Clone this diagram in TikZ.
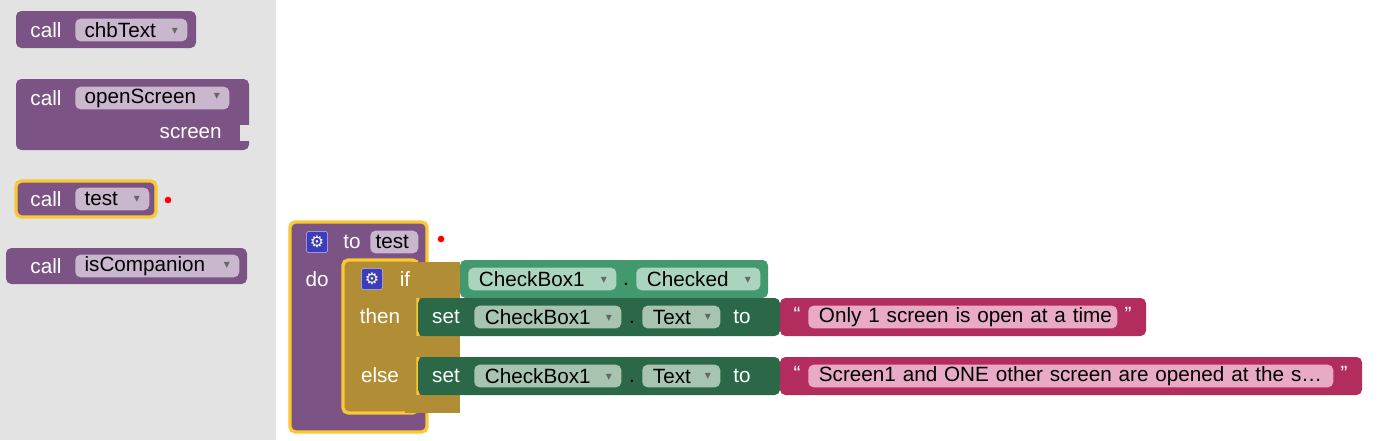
\documentclass[tikz,border=0pt]{standalone}
\usepackage{fontspec}
\setmainfont{Liberation Sans}
\newfontfamily\symfont{DejaVu Sans}
\usetikzlibrary{positioning}
\definecolor{procPurple}{RGB}{124,83,133}
\definecolor{procField}{RGB}{201,183,206}
\definecolor{ctrlGold}{RGB}{177,142,53}
\definecolor{selYellow}{RGB}{250,200,50}
\definecolor{getGreen}{RGB}{67,153,110}
\definecolor{getField}{RGB}{170,212,190}
\definecolor{setGreen}{RGB}{42,104,72}
\definecolor{setField}{RGB}{166,196,176}
\definecolor{txtRed}{RGB}{178,45,94}
\definecolor{txtField}{RGB}{232,170,196}
\definecolor{gearBlue}{RGB}{60,60,190}
\newcommand{\dd}{\hfill\raisebox{2.5pt}{\symfont\small\color{black!60}▾}\hspace*{7pt}}
\tikzset{
  blk/.style={rounded corners=4pt},
  fld/.style={rounded corners=4pt, anchor=west, inner sep=0pt, minimum height=17pt,
    text width=#1*0.75pt, align=left, text=black, font=\fontsize{15.5}{18}\selectfont},
  lbl/.style={text=white, font=\fontsize{15.5}{18}\selectfont, inner sep=0pt},
  gear/.style={fill=gearBlue, draw=white!70!gearBlue, rounded corners=2pt, minimum size=16pt, inner sep=0pt, text=white!85!yellow, font=\symfont\large},
  dot/.style={circle, fill=red, inner sep=0pt, minimum size=5pt}
}
\begin{document}
\begin{tikzpicture}[x=0.75pt, y=-0.75pt]
  % background
  \useasboundingbox (0,0) rectangle (1380,440);
  \fill[white] (0,0) rectangle (1380,440);
  \fill[black!11] (0,0) rectangle (276,440);

  % palette blocks
  \fill[procPurple, blk] (16,11) rectangle (196,48);
  \node[lbl] (c1) at (46,30) {call};
  \node[fld=112, fill=procField] (f1) at (75,30) {\hspace{7pt}chbText\dd};

  \fill[procPurple, blk] (16,79) rectangle (249,150);
  \fill[black!11] (240,125) rectangle (250,141);
  \node[lbl] (c2) at (46,98) {call};
  \node[fld=154, fill=procField] (f2) at (75,98) {\hspace{7pt}openScreen\dd};
  \node[lbl, anchor=east] (s2) at (222,133) {screen};

  \fill[procPurple, blk, draw=selYellow, line width=2.5pt] (16,181) rectangle (156,217);
  \node[lbl] (c3) at (46,199) {call};
  \node[fld=74, fill=procField] (f3) at (75,199) {\hspace{7pt}test\dd};
  \node[dot] (d3) at (168,200) {};

  \fill[procPurple, blk] (6,248) rectangle (247,284);
  \node[lbl] (c4) at (46,266) {call};
  \node[fld=164, fill=procField] (f4) at (75,266) {\hspace{7pt}isCompanion\dd};

  % procedure definition
  \fill[procPurple, blk, draw=selYellow, line width=2.5pt] (290,222) rectangle (427,432);
  \node[gear] (g1) at (317,242) {⚙};
  \node[lbl] (to1) at (352,242) {to};
  \node[fld=48, fill=procField] (p1) at (370,242) {\hspace{4pt}test};
  \node[dot] (d1) at (441,239) {};
  \node[lbl] (do1) at (317,279) {do};

  % if-then-else block
  \fill[ctrlGold, blk, draw=selYellow, line width=2.5pt] (343,260) rectangle (418,413);
  \fill[ctrlGold] (405,262) rectangle (460,298);
  \fill[ctrlGold] (405,336) rectangle (460,357);
  \fill[ctrlGold] (405,395) rectangle (460,413);
  \node[gear] (g2) at (372,279) {⚙};
  \node[lbl] (if1) at (405,279) {if};
  \node[lbl] (th1) at (380,316) {then};
  \node[lbl] (el1) at (380,375) {else};

  % condition
  \fill[getGreen, blk] (460,260) rectangle (768,298);
  \node[fld=148, fill=getField] (cb0) at (468,279) {\hspace{8pt}CheckBox1\dd};
  \node[lbl, text=black] (pt0) at (626,284) {.};
  \node[fld=124, fill=getField] (ch0) at (636,279) {\hspace{8pt}Checked\dd};

  % setters
  \foreach \y/\nm in {317/a, 376/b} {
    \fill[setGreen, blk] (418,\y-19) rectangle (780,\y+19);
    \node[lbl] (set\nm) at (446,\y) {set};
    \node[fld=147, fill=setField] (cb\nm) at (474,\y) {\hspace{8pt}CheckBox1\dd};
    \node[lbl, text=black] (pt\nm) at (632,\y+5) {.};
    \node[fld=78, fill=setField] (tx\nm) at (642,\y) {\hspace{8pt}Text\dd};
    \node[lbl] (to\nm) at (742,\y) {to};
  }

  % text values
  \fill[txtRed, blk] (780,298) rectangle (1146,336);
  \node[lbl] (qa1) at (797,314) {``};
  \node[fld=309, fill=txtField] (sa) at (808,317) {\hspace{8pt}Only 1 screen is open at a time};
  \node[lbl] (qa2) at (1128,314) {''};
  \fill[txtRed, blk] (780,357) rectangle (1362,395);
  \node[lbl] (qb1) at (797,373) {``};
  \node[fld=525, fill=txtField] (sb) at (808,376) {\hspace{8pt}Screen1 and ONE other screen are opened at the s\ldots};
  \node[lbl] (qb2) at (1344,373) {''};
\end{tikzpicture}
\end{document}
